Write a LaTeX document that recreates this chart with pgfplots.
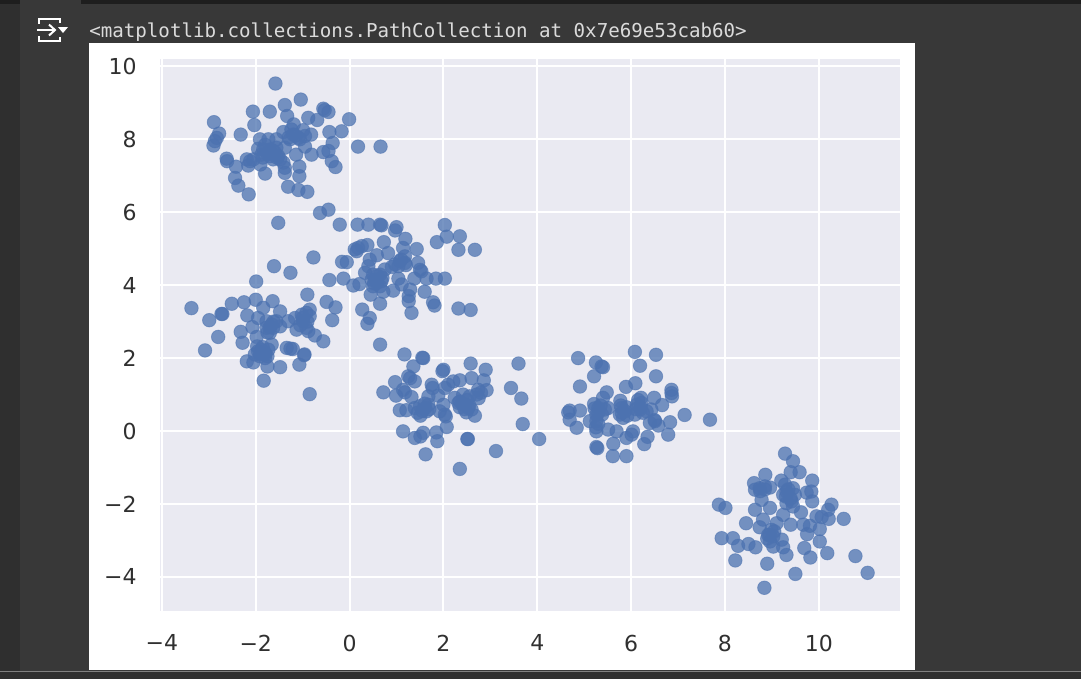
\documentclass[border=0pt]{standalone}
\usepackage{pgfplots}
\pgfplotsset{compat=1.18}
\usepackage{fontspec}
\setmainfont{DejaVu Sans}
\newfontfamily\monof{DejaVu Sans Mono}
\definecolor{nb}{HTML}{383838}
\definecolor{nbside}{HTML}{2F2F2F}
\definecolor{nbtop}{HTML}{1E1E1E}
\definecolor{pane}{HTML}{EAEAF2}
\definecolor{dot}{HTML}{4C72B0}
\definecolor{tickc}{HTML}{303030}
\begin{document}
\begin{tikzpicture}[x=0.75pt,y=-0.75pt]
\useasboundingbox (0,0) rectangle (1081,679);
\fill[nb] (0,0) rectangle (1081,679);
\fill[nbside] (0,0) rectangle (20,679);
\fill[nbtop] (0,0) rectangle (1081,4);
\fill[nb] (20,0) rectangle (81,4);
\fill[nbside] (0,672) rectangle (1081,679);
\draw[gray,line width=0.6pt] (0,671.5) -- (1081,671.5);
\fill[white] (89,43) rectangle (915,670);
% output icon
\begin{scope}[white,line width=1.5pt]
\draw (39,24) -- (39,19) -- (60,19) -- (60,23);
\draw (39,36) -- (39,41) -- (60,41) -- (60,37);
\draw (37,30) -- (55,30);
\draw (49,24.5) -- (55,30) -- (49,35.5);
\fill (58,27) -- (68,27) -- (63,33) -- cycle;
\end{scope}
\node[anchor=west,inner sep=0pt,text=black!14,font=\monof\fontsize{14.37pt}{16pt}\selectfont] at (89,32) {<matplotlib.collections.PathCollection at 0x7e69e53cab60>};
\begin{axis}[
  at={(120pt,-458.6pt)},anchor=south west,
  scale only axis,width=555pt,height=414pt,
  xmin=-4.04,xmax=11.73,ymin=-4.95,ymax=10.19,
  axis background/.style={fill=pane},
  axis line style={draw=none},
  grid=major,
  grid style={white,line width=1.5pt},
  major tick length=0pt,
  xtick={-4,-2,0,2,4,6,8,10},
  ytick={-4,-2,0,2,4,6,8,10},
  xticklabels={−4,−2,0,2,4,6,8,10},
  yticklabels={−4,−2,0,2,4,6,8,10},
  tick label style={text=tickc,font=\fontsize{16.5pt}{19pt}\selectfont},
  xticklabel style={yshift=-14pt},
  yticklabel style={xshift=-14pt},
]
\addplot[only marks,color=dot,mark=*,mark size=5.1pt,mark options={draw=dot,fill=dot,line width=0.6pt,fill opacity=0.75,draw opacity=0.55}] coordinates {
(-1.58,9.53)(-1.04,9.09)(-1.38,8.94)(-2.06,8.76)(-1.70,8.76)(-0.56,8.84)(-0.53,8.80)(-0.45,8.75)
(-1.33,8.64)(-0.88,8.59)(-0.69,8.53)(-0.01,8.55)(-2.89,8.47)(-2.03,8.39)(-1.19,8.41)(-2.78,8.16)
(-2.32,8.13)(-1.41,8.20)(-1.24,8.27)(-0.99,8.25)(-0.82,8.13)(-0.43,8.20)(-0.17,8.22)(-2.83,8.04)
(-2.87,7.95)(-2.90,7.83)(-1.91,8.00)(-1.73,8.00)(-1.56,8.00)(-1.27,8.00)(-1.09,8.04)(-0.95,8.09)
(-0.36,7.90)(0.18,7.80)(0.66,7.80)(-1.95,7.74)(-1.70,7.72)(-1.38,7.77)(-0.95,7.80)(-2.62,7.47)
(-2.61,7.40)(-2.19,7.45)(-2.12,7.40)(-2.16,7.28)(-1.88,7.58)(-1.70,7.54)(-1.52,7.54)(-1.14,7.58)
(-0.81,7.58)(-0.56,7.65)(-0.45,7.68)(-0.38,7.40)(-2.42,7.25)(-1.90,7.31)(-1.41,7.36)(-1.38,7.22)
(-1.07,7.25)(-0.30,7.24)(-1.80,7.06)(-1.38,7.08)(-1.07,6.99)(-2.44,6.94)(-2.37,6.73)(-1.31,6.70)
(-1.09,6.61)(-0.90,6.56)(-2.15,6.49)(-1.84,7.72)(-1.56,7.77)(-1.63,7.45)(-1.48,7.45)(-1.06,8.00)
(-1.20,8.13)(-2.05,7.45)(-0.63,5.98)(-0.45,6.07)(-1.52,5.71)
(-1.80,7.85)(-1.65,7.70)(-1.75,7.60)(-1.85,7.50)(-1.60,7.65)(-1.55,7.50)(-1.15,8.10)(-1.30,8.05)
(-0.77,4.76)(-1.61,4.52)(-1.26,4.34)(-1.99,4.10)(-3.37,3.37)(-2.51,3.49)(-2.25,3.53)(-2.00,3.60)
(-1.64,3.56)(-0.90,3.74)(-0.49,3.54)(-0.30,3.39)(-2.99,3.04)(-2.73,3.21)(-2.71,3.21)(-2.18,3.17)
(-1.84,3.38)(-1.48,3.28)(-0.85,3.33)(-0.37,3.04)(-2.80,2.58)(-3.08,2.21)(-2.32,2.72)(-2.28,2.42)
(-2.07,2.85)(-1.95,3.10)(-1.77,3.01)(-1.66,2.92)(-1.56,3.01)(-1.63,2.83)(-1.70,2.69)(-1.77,2.83)
(-1.48,2.87)(-1.31,3.01)(-1.16,3.10)(-1.02,3.19)(-0.92,3.24)(-0.85,3.15)(-0.99,3.01)(-0.92,2.83)
(-1.13,2.78)(-0.88,2.74)(-0.74,2.62)(-0.56,2.46)(-1.98,2.58)(-1.66,2.37)(-1.97,2.32)(-1.34,2.28)
(-1.26,2.26)(-1.21,2.25)(-0.97,2.08)(-0.96,2.10)(-1.07,1.82)(-2.19,1.91)(-2.05,1.88)(-1.95,2.19)
(-1.88,2.23)(-1.80,2.14)(-1.73,2.23)(-2.02,2.10)(-1.91,2.05)(-1.80,2.00)(-1.75,1.77)(-1.48,1.75)
(-1.83,1.38)(-0.85,1.01)
(-1.70,2.85)(-1.62,3.00)(-1.75,2.70)(-1.00,3.10)(-0.90,3.00)(-1.05,2.90)(-1.80,2.10)(-1.90,2.12)(-1.75,2.05)(-1.85,2.30)
(-0.21,5.66)(0.17,5.66)(0.40,5.66)(0.65,5.66)(0.68,5.64)(0.97,5.50)(1.00,5.59)(2.03,5.65)(1.19,5.27)
(2.07,5.33)(2.35,5.34)(1.86,5.18)(0.73,5.18)(2.67,4.97)(2.32,4.97)(1.43,4.99)(1.14,5.02)(0.38,5.10)
(0.26,5.07)(0.18,5.02)(0.11,4.98)(0.15,4.93)(0.82,4.88)(0.58,4.82)(-0.16,4.64)(-0.06,4.63)(0.43,4.70)
(0.40,4.52)(1.18,4.79)(1.07,4.66)(0.97,4.57)(1.18,4.61)(1.04,4.52)(1.46,4.61)(1.53,4.38)(1.50,4.42)
(0.75,4.43)(0.65,4.29)(0.50,4.29)(0.47,4.15)(0.58,4.06)(0.68,4.11)(0.50,3.97)(0.65,3.97)(1.64,4.18)
(1.84,4.18)(2.03,4.18)(-0.43,4.14)(-0.13,4.18)(0.08,3.99)(0.21,4.03)(0.33,4.34)(1.04,4.18)(1.38,4.18)
(1.11,4.02)(1.29,3.88)(0.93,3.85)(0.72,3.82)(0.45,3.74)(1.60,3.82)(1.26,3.70)(1.26,3.56)(0.65,3.49)
(1.78,3.53)(1.81,3.44)(1.32,3.24)(2.32,3.36)(2.58,3.32)(0.27,3.33)(0.43,3.10)(0.38,2.94)(0.65,2.37)
(0.55,4.15)(0.60,4.25)(0.52,4.05)(0.70,4.20)(1.10,4.70)(1.20,4.55)(0.90,4.50)
(1.17,2.10)(1.57,2.00)(1.55,2.01)(1.36,1.77)(2.00,1.68)(1.98,1.64)(2.58,1.85)(3.60,1.85)(2.90,1.68)
(2.86,1.39)(2.60,1.45)(1.25,1.50)(1.29,1.45)(1.39,1.36)(0.97,1.34)(3.44,1.18)(0.72,1.06)(1.14,1.13)
(1.18,1.06)(0.99,0.97)(1.32,0.93)(1.75,1.27)(1.77,1.18)(2.35,1.39)(2.21,1.36)(2.10,1.27)(2.03,1.18)
(2.74,1.13)(2.92,1.12)(2.71,1.00)(3.66,0.89)(1.89,0.97)(1.68,0.95)(2.24,0.91)(2.42,1.00)(2.56,0.95)
(1.07,0.57)(1.21,0.57)(1.39,0.63)(1.50,0.68)(1.61,0.63)(1.68,0.72)(1.51,0.42)(1.64,0.54)(2.00,0.72)
(2.03,0.45)(2.05,0.40)(1.92,0.54)(2.35,0.81)(2.46,0.72)(2.53,0.63)(2.60,0.59)(2.49,0.51)(2.67,0.42)
(2.32,0.77)(2.07,0.11)(1.14,-0.01)(3.69,0.19)(4.04,-0.22)(1.85,-0.04)(1.87,-0.28)(1.57,-0.05)(1.51,-0.15)
(1.39,-0.19)(2.51,-0.22)(2.52,-0.22)(3.12,-0.55)(1.62,-0.64)(2.35,-1.04)
(1.55,0.55)(1.60,0.75)(1.45,0.50)(1.70,0.60)(2.40,0.75)(2.50,0.85)(2.55,0.70)(2.35,0.65)(2.45,0.60)(2.80,1.05)(2.75,0.90)
(4.87,2.00)(6.08,2.17)(6.53,2.09)(5.25,1.88)(5.40,1.75)(5.37,1.77)(6.19,1.79)(5.21,1.50)(6.53,1.50)
(4.91,1.22)(5.89,1.21)(6.09,1.31)(6.86,1.13)(6.87,0.95)(6.86,1.04)(5.48,1.06)(5.40,0.91)(5.21,0.74)
(5.77,0.83)(6.21,0.91)(6.49,0.91)(6.66,0.71)(5.44,0.59)(5.30,0.63)(5.26,0.45)(5.51,0.63)(5.80,0.63)
(5.87,0.54)(5.83,0.36)(5.76,0.45)(6.12,0.72)(6.19,0.59)(6.08,0.45)(6.22,0.77)(6.33,0.54)(6.43,0.59)
(7.14,0.44)(7.68,0.31)(4.69,0.56)(4.66,0.51)(4.91,0.56)(4.69,0.31)(4.84,0.09)(5.12,0.27)(5.26,0.27)
(5.26,-0.01)(6.83,0.24)(6.51,0.27)(6.58,0.15)(6.40,0.22)(6.79,-0.10)(6.04,-0.01)(5.90,-0.19)(5.69,-0.01)
(5.51,0.04)(6.01,-0.10)(6.35,-0.16)(6.28,-0.36)(5.62,-0.35)(5.26,-0.44)(5.28,-0.47)(5.61,-0.69)(5.90,-0.69)
(5.30,0.50)(5.35,0.70)(5.22,0.62)(5.38,0.45)(5.80,0.50)(5.90,0.65)(5.78,0.70)(5.92,0.42)(6.20,0.65)(6.15,0.85)(6.25,0.50)(6.10,0.60)(6.50,0.30)(5.25,0.10)(5.30,0.20)
(9.28,-0.62)(9.45,-0.83)(9.59,-1.13)(9.40,-1.13)(8.86,-1.20)(9.86,-1.36)(8.62,-1.43)(8.64,-1.61)(9.20,-1.36)
(8.74,-1.57)(8.85,-1.52)(8.96,-1.55)(9.28,-1.47)(9.45,-1.57)(9.31,-1.66)(9.24,-1.75)(9.74,-1.69)(9.84,-1.66)
(9.86,-1.93)(8.78,-1.89)(9.49,-1.75)(9.42,-1.93)(9.45,-2.07)(9.31,-1.98)(10.27,-2.02)(7.87,-2.02)(8.01,-2.11)
(8.64,-2.16)(8.96,-2.11)(10.20,-2.16)(9.62,-2.23)(9.24,-2.30)(9.95,-2.34)(10.06,-2.36)(10.21,-2.41)(10.53,-2.41)
(8.45,-2.53)(8.81,-2.43)(8.74,-2.64)(9.40,-2.57)(9.67,-2.57)(9.81,-2.60)(10.02,-2.69)(9.10,-2.53)(9.75,-2.83)
(10.02,-3.03)(8.99,-2.71)(8.92,-2.85)(9.03,-2.89)(8.96,-3.03)(9.21,-2.98)(9.03,-3.17)(7.93,-2.94)(8.17,-2.94)
(8.28,-3.15)(8.50,-3.10)(8.65,-3.19)(9.24,-3.19)(9.31,-3.40)(9.69,-3.21)(9.82,-3.47)(10.18,-3.35)(8.22,-3.55)
(8.90,-3.64)(10.78,-3.43)(11.04,-3.89)(9.50,-3.92)(8.84,-4.30)
(8.95,-2.85)(9.05,-2.75)(8.90,-2.95)(9.30,-1.80)(9.40,-1.85)(9.35,-1.60)(8.75,-1.65)(8.85,-1.60)
};
\end{axis}
\end{tikzpicture}
\end{document}
